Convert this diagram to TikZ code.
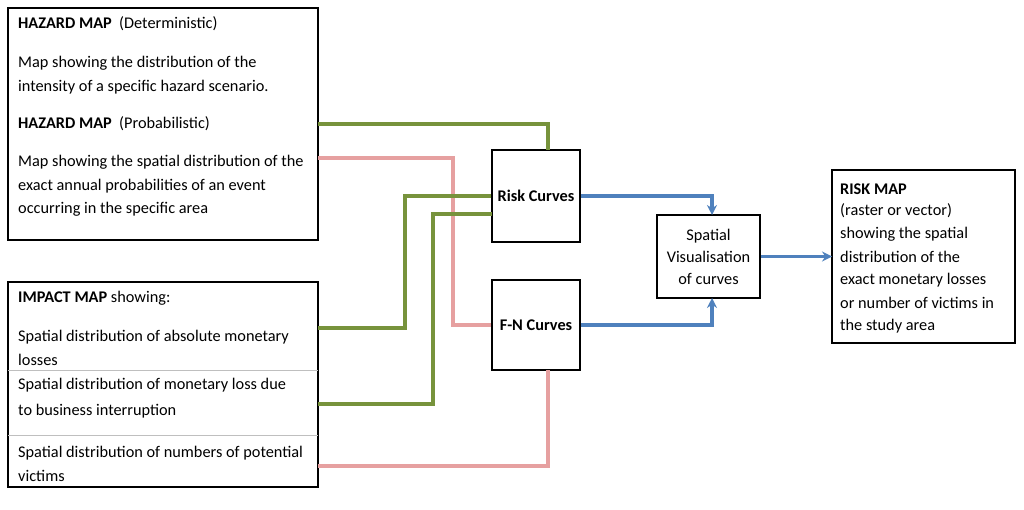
\documentclass[tikz,border=0pt]{standalone}
\usepackage{fontspec}
\setmainfont{Carlito}
\usetikzlibrary{arrows.meta}
\begin{document}
\begin{tikzpicture}[x=1pt,y=-1pt,
  box/.style={draw=black,line width=1.3pt},
  t/.style={anchor=west,inner sep=0pt,font=\fontsize{16.3}{19}\selectfont},
  c/.style={align=center,inner sep=0pt,font=\fontsize{16.3}{19}\selectfont},
  gr/.style={draw={rgb,255:red,119;green,147;blue,60},line width=3.2pt},
  rd/.style={draw={rgb,255:red,230;green,160;blue,160},line width=3.2pt},
  bl/.style={draw={rgb,255:red,79;green,129;blue,189},line width=3.2pt,-{Stealth[length=10pt,width=10pt]}}]
\useasboundingbox (0,0) rectangle (1024,510);
% boxes
\draw[box] (8,8) rectangle (318,240);
\draw[box] (8,282) rectangle (318,487);
\draw[gray!50,line width=1pt] (8,370) -- (318,370) (8,435) -- (318,435);
\node[box,minimum width=88pt,minimum height=92pt,c] (rc) at (536,196) {\textbf{Risk Curves}};
\node[box,minimum width=88pt,minimum height=90pt,c] (fn) at (536,325) {\textbf{F-N Curves}};
\node[box,minimum width=103pt,minimum height=83pt,c] (sv) at (708.5,256.5) {Spatial\\[3pt]Visualisation\\[3pt]of curves};
\draw[box] (832,170) rectangle (1015,343);
\coordinate (rm) at (832,256.5);
% texts
\node[t] at (18,24) {\textbf{HAZARD MAP}\ \ (Deterministic)};
\node[t] at (18,63) {Map showing the distribution of the};
\node[t] at (18,87) {intensity of a specific hazard scenario.};
\node[t] at (18,124) {\textbf{HAZARD MAP}\ \ (Probabilistic)};
\node[t] at (18,162) {Map showing the spatial distribution of the};
\node[t] at (18,186) {exact annual probabilities of an event};
\node[t] at (18,209) {occurring in the specific area};
\node[t] at (18,298) {\textbf{IMPACT MAP} showing:};
\node[t] at (18,337) {Spatial distribution of absolute monetary};
\node[t] at (18,360) {losses};
\node[t] at (18,385) {Spatial distribution of monetary loss due};
\node[t] at (18,411) {to business interruption};
\node[t] at (18,453) {Spatial distribution of numbers of potential};
\node[t] at (18,476) {victims};
\node[t] at (840,189) {\textbf{RISK MAP}};
\node[t] at (840,211) {(raster or vector)};
\node[t] at (840,234) {showing the spatial};
\node[t] at (840,257) {distribution of the};
\node[t] at (840,280) {exact monetary losses};
\node[t] at (840,303) {or number of victims in};
\node[t] at (840,326) {the study area};
% endpoints
\coordinate (h1) at (318,124);
\coordinate (h2) at (318,158);
\coordinate (i1) at (318,328);
\coordinate (i2) at (318,404);
\coordinate (i3) at (318,466);
% connectors
\draw[gr] (h1) -- (548,124) -- (548,150);
\draw[rd] (h2) -- (453,158) -- (453,325) -- (fn.west);
\draw[gr] (rc.west) -- (405,196) -- (405,328) -- (i1);
\draw[gr] (492,214) -- (433,214) -- (433,404) -- (i2);
\draw[rd] (i3) -- (548,466) -- (548,370);
\draw[bl] (rc.east) -- (712,196) -- (712,215);
\draw[bl] (fn.east) -- (712,325) -- (712,298);
\draw[bl] (sv.east) -- (rm);
\end{tikzpicture}
\end{document}
